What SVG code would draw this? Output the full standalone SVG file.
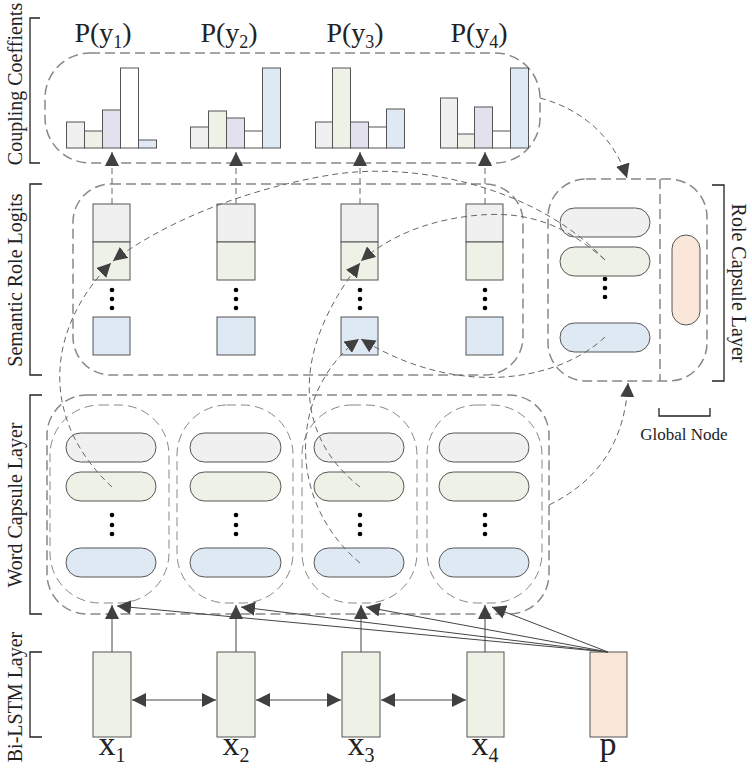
<svg xmlns="http://www.w3.org/2000/svg" width="752" height="769" viewBox="0 0 752 769">
<defs>
<marker id="ah" viewBox="0 0 10 10" refX="10" refY="5" markerWidth="14" markerHeight="14" markerUnits="userSpaceOnUse" orient="auto-start-reverse"><path d="M0,0 L10,5 L0,10 z" fill="#404040"/></marker>
<style>
.t{font-family:"Liberation Serif","Times New Roman",serif;fill:#222}
.box{stroke:#555;stroke-width:1}
.g{fill:#f0f0f0}.gr{fill:#edf1e6}.pu{fill:#e4e1ee}.bl{fill:#dfe9f3}.pe{fill:#fbe6da}.w{fill:#fff}
.od{fill:none;stroke:#888;stroke-width:1.5;stroke-dasharray:10,5}
.id{fill:none;stroke:#888;stroke-width:1;stroke-dasharray:9,5}
.cv{fill:none;stroke:#666;stroke-width:1;stroke-dasharray:6,4}
.ln{fill:none;stroke:#444;stroke-width:1}
.br{fill:none;stroke:#222;stroke-width:1.3}
</style>
</defs>
<rect width="752" height="769" fill="#fff"/>

<g id="side-labels">
<path class="br" d="M40,18 H30 V163 H40"/>
<text class="t" font-size="20" transform="translate(22,84) rotate(-90)" text-anchor="middle">Coupling Coeffients</text>
<path class="br" d="M42,184 H30 V375 H42"/>
<text class="t" font-size="20" transform="translate(22,280) rotate(-90)" text-anchor="middle">Semantic Role Logits</text>
<path class="br" d="M42,395 H30 V614 H42"/>
<text class="t" font-size="20" transform="translate(22,505) rotate(-90)" text-anchor="middle">Word Capsule Layer</text>
<path class="br" d="M42,652 H30 V737 H42"/>
<text class="t" font-size="20" transform="translate(22,697) rotate(-90)" text-anchor="middle">Bi-LSTM Layer</text>
<path class="br" d="M712,185 H724 V381 H712"/>
<text class="t" font-size="20" transform="translate(732,283) rotate(90)" text-anchor="middle">Role Capsule Layer</text>
<path class="br" d="M659,408 V416 H710 V408"/>
<text class="t" font-size="17" x="684" y="440" text-anchor="middle">Global Node</text>
</g>

<g id="coupling">
<rect class="od" x="45" y="53" width="495" height="110" rx="45"/>
<text class="t" font-size="28" x="103" y="42" text-anchor="middle">P(y<tspan font-size="18" dy="6">1</tspan><tspan dy="-6">)</tspan></text>
<text class="t" font-size="28" x="229" y="42" text-anchor="middle">P(y<tspan font-size="18" dy="6">2</tspan><tspan dy="-6">)</tspan></text>
<text class="t" font-size="28" x="355" y="42" text-anchor="middle">P(y<tspan font-size="18" dy="6">3</tspan><tspan dy="-6">)</tspan></text>
<text class="t" font-size="28" x="479" y="42" text-anchor="middle">P(y<tspan font-size="18" dy="6">4</tspan><tspan dy="-6">)</tspan></text>
<g class="box">
<rect class="g" x="66.5" y="122" width="18" height="26"/><rect class="gr" x="84.5" y="131" width="18" height="17"/><rect class="pu" x="102.5" y="110" width="18" height="38"/><rect class="w" x="120.5" y="68" width="18" height="80"/><rect class="bl" x="138.5" y="140" width="18" height="8"/>
<rect class="g" x="190.5" y="127" width="18" height="21"/><rect class="gr" x="208.5" y="111" width="18" height="37"/><rect class="pu" x="226.5" y="118" width="18" height="30"/><rect class="w" x="244.5" y="131" width="18" height="17"/><rect class="bl" x="262.5" y="68" width="18" height="80"/>
<rect class="g" x="315.5" y="122" width="17" height="26"/><rect class="gr" x="332.5" y="68" width="18" height="80"/><rect class="pu" x="350.5" y="122" width="18" height="26"/><rect class="w" x="368.5" y="127" width="18" height="21"/><rect class="bl" x="386.5" y="109" width="18" height="39"/>
<rect class="g" x="440.5" y="98" width="17" height="50"/><rect class="gr" x="457.5" y="134" width="17" height="14"/><rect class="pu" x="474.5" y="107" width="18" height="41"/><rect class="w" x="492.5" y="131" width="18" height="17"/><rect class="bl" x="510.5" y="68" width="18" height="80"/>
</g>
</g>

<g id="logits">
<rect class="od" x="73" y="184" width="450" height="191" rx="38"/>
<g class="box">
<rect class="g" x="93" y="204" width="37" height="38"/><rect class="gr" x="93" y="242" width="37" height="38"/><rect class="bl" x="93" y="317" width="37" height="38"/>
<rect class="g" x="217" y="204" width="38" height="38"/><rect class="gr" x="217" y="242" width="38" height="38"/><rect class="bl" x="217" y="317" width="38" height="38"/>
<rect class="g" x="341" y="204" width="37" height="38"/><rect class="gr" x="341" y="242" width="37" height="38"/><rect class="bl" x="341" y="317" width="37" height="38"/>
<rect class="g" x="466" y="204" width="37" height="38"/><rect class="gr" x="466" y="242" width="37" height="38"/><rect class="bl" x="466" y="317" width="37" height="38"/>
</g>
<g fill="#000"><circle cx="112" cy="290" r="2.3"/><circle cx="112" cy="299" r="2.3"/><circle cx="112" cy="308" r="2.3"/>
<circle cx="236" cy="290" r="2.3"/><circle cx="236" cy="299" r="2.3"/><circle cx="236" cy="308" r="2.3"/>
<circle cx="360" cy="290" r="2.3"/><circle cx="360" cy="299" r="2.3"/><circle cx="360" cy="308" r="2.3"/>
<circle cx="485" cy="290" r="2.3"/><circle cx="485" cy="299" r="2.3"/><circle cx="485" cy="308" r="2.3"/></g>
</g>

<g id="role-capsules">
<rect class="od" x="548" y="179" width="159" height="202" rx="38"/>
<line class="od" x1="660" y1="179" x2="660" y2="381"/>
<g class="box">
<rect class="g" x="560" y="208" width="90" height="29" rx="14.5"/>
<rect class="gr" x="560" y="247" width="90" height="29" rx="14.5"/>
<rect class="bl" x="560" y="323" width="90" height="29" rx="14.5"/>
<rect class="pe" x="672" y="235" width="28" height="90" rx="14"/>
</g>
<g fill="#000"><circle cx="605" cy="279" r="2.3"/><circle cx="605" cy="288" r="2.3"/><circle cx="605" cy="297" r="2.3"/></g>
</g>

<g id="word-capsules">
<rect class="od" x="47" y="395" width="502" height="219" rx="40"/>
<rect class="id" x="50" y="405" width="119" height="198" rx="50"/>
<rect class="id" x="177" y="405" width="116" height="198" rx="50"/>
<rect class="id" x="302" y="405" width="115" height="198" rx="50"/>
<rect class="id" x="427" y="405" width="115" height="198" rx="50"/>
<g class="box">
<rect class="g" x="66" y="433" width="90" height="29" rx="14.5"/><rect class="gr" x="66" y="472" width="90" height="29" rx="14.5"/><rect class="bl" x="66" y="548" width="90" height="29" rx="14.5"/>
<rect class="g" x="190" y="433" width="91" height="29" rx="14.5"/><rect class="gr" x="190" y="472" width="91" height="29" rx="14.5"/><rect class="bl" x="190" y="548" width="91" height="29" rx="14.5"/>
<rect class="g" x="314" y="433" width="90" height="29" rx="14.5"/><rect class="gr" x="314" y="472" width="90" height="29" rx="14.5"/><rect class="bl" x="314" y="548" width="90" height="29" rx="14.5"/>
<rect class="g" x="439" y="433" width="90" height="29" rx="14.5"/><rect class="gr" x="439" y="472" width="90" height="29" rx="14.5"/><rect class="bl" x="439" y="548" width="90" height="29" rx="14.5"/>
</g>
<g fill="#000"><circle cx="112" cy="515" r="2.3"/><circle cx="112" cy="525" r="2.3"/><circle cx="112" cy="534" r="2.3"/>
<circle cx="236" cy="515" r="2.3"/><circle cx="236" cy="525" r="2.3"/><circle cx="236" cy="534" r="2.3"/>
<circle cx="360" cy="515" r="2.3"/><circle cx="360" cy="525" r="2.3"/><circle cx="360" cy="534" r="2.3"/>
<circle cx="485" cy="515" r="2.3"/><circle cx="485" cy="525" r="2.3"/><circle cx="485" cy="534" r="2.3"/></g>
</g>

<g id="bilstm">
<g class="box">
<rect class="gr" x="93" y="652" width="38" height="85"/>
<rect class="gr" x="217" y="652" width="38" height="85"/>
<rect class="gr" x="342" y="652" width="38" height="85"/>
<rect class="gr" x="467" y="652" width="37" height="85"/>
<rect class="pe" x="590" y="652" width="37" height="85"/>
</g>
<text class="t" font-size="34" x="112" y="755" text-anchor="middle">x<tspan font-size="20" dy="7">1</tspan></text>
<text class="t" font-size="34" x="236" y="755" text-anchor="middle">x<tspan font-size="20" dy="7">2</tspan></text>
<text class="t" font-size="34" x="361" y="755" text-anchor="middle">x<tspan font-size="20" dy="7">3</tspan></text>
<text class="t" font-size="34" x="485" y="755" text-anchor="middle">x<tspan font-size="20" dy="7">4</tspan></text>
<text class="t" font-size="34" x="608" y="755" text-anchor="middle">p</text>
</g>

<g id="connectors">
<line class="ln" x1="132" y1="700" x2="216" y2="700" marker-start="url(#ah)" marker-end="url(#ah)"/>
<line class="ln" x1="256" y1="700" x2="341" y2="700" marker-start="url(#ah)" marker-end="url(#ah)"/>
<line class="ln" x1="381" y1="700" x2="466" y2="700" marker-start="url(#ah)" marker-end="url(#ah)"/>
<line class="ln" x1="112" y1="652" x2="112" y2="605" marker-end="url(#ah)"/>
<line class="ln" x1="236" y1="652" x2="236" y2="605" marker-end="url(#ah)"/>
<line class="ln" x1="361" y1="652" x2="361" y2="605" marker-end="url(#ah)"/>
<line class="ln" x1="485" y1="652" x2="485" y2="605" marker-end="url(#ah)"/>
<line class="ln" x1="608" y1="652" x2="117" y2="606" marker-end="url(#ah)"/>
<line class="ln" x1="608" y1="652" x2="241" y2="607" marker-end="url(#ah)"/>
<line class="ln" x1="608" y1="652" x2="366" y2="607" marker-end="url(#ah)"/>
<line class="ln" x1="608" y1="652" x2="492" y2="607" marker-end="url(#ah)"/>
<line class="cv" x1="112" y1="204" x2="112" y2="152" marker-end="url(#ah)"/>
<line class="cv" x1="236" y1="204" x2="236" y2="152" marker-end="url(#ah)"/>
<line class="cv" x1="360" y1="204" x2="360" y2="152" marker-end="url(#ah)"/>
<line class="cv" x1="485" y1="204" x2="485" y2="152" marker-end="url(#ah)"/>
<path class="cv" d="M540,98 C585,110 615,140 627,178" marker-end="url(#ah)"/>
<path class="cv" d="M549,505 C600,480 625,440 628,383" marker-end="url(#ah)"/>
<path class="cv" d="M112,487 C40,420 45,330 111,263" marker-end="url(#ah)"/>
<path class="cv" d="M605,260 C540,190 420,160 330,175 C240,190 160,225 113,261" marker-end="url(#ah)"/>
<path class="cv" d="M605,260 C560,220 520,210 470,216 C420,222 385,240 361,261" marker-end="url(#ah)"/>
<path class="cv" d="M360,487 C300,440 285,360 360,263" marker-end="url(#ah)"/>
<path class="cv" d="M360,563 C285,500 290,390 359,339" marker-end="url(#ah)"/>
<path class="cv" d="M605,337 C560,380 460,400 361,339" marker-end="url(#ah)"/>
</g>
</svg>
